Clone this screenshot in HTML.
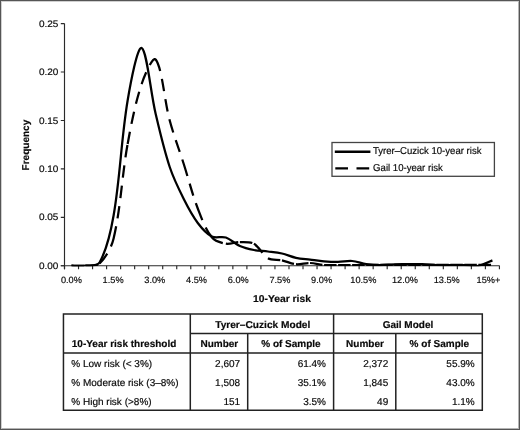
<!DOCTYPE html>
<html><head><meta charset="utf-8"><title>10-Year risk</title>
<style>
html,body{margin:0;padding:0;background:#fff;}
body{width:520px;height:430px;overflow:hidden;position:relative;}
#frame{position:absolute;left:0;top:0;width:520px;height:430px;box-sizing:border-box;border:1px solid #555;}
#frame2{position:absolute;left:1px;top:1px;width:518px;height:428px;box-sizing:border-box;border-top:1px solid #d0d0d0;border-left:1px solid #d0d0d0;border-right:1px solid #b4b4b4;border-bottom:1px solid #b4b4b4;}
svg{position:absolute;left:0;top:0;}
svg text{font-family:"Liberation Sans",Arial,Helvetica,sans-serif;font-size:10px;fill:#0a0a0a;stroke:#0a0a0a;stroke-width:0.18px;text-rendering:geometricPrecision;}
svg text.a{font-size:10px;}
svg text.t{font-size:10px;}
svg text.tb{font-size:10px;font-weight:bold;}
svg text.b{font-weight:bold;font-size:10px;}
</style></head><body>
<div id="frame"></div><div id="frame2"></div>
<svg width="520" height="430" viewBox="0 0 520 430">
<defs><clipPath id="cp"><rect x="60" y="0" width="450" height="266.3"/></clipPath></defs>
<g fill="none" stroke="#2a2a2a" stroke-width="1.15">
<path d="M64.5 23.5V269.15M60.8 265.75H499.6"/>
<path d="M64.50 265.75v3.4M78.53 265.75v3.4M92.56 265.75v3.4M106.59 265.75v3.4M120.62 265.75v3.4M134.65 265.75v3.4M148.68 265.75v3.4M162.71 265.75v3.4M176.74 265.75v3.4M190.77 265.75v3.4M204.80 265.75v3.4M218.83 265.75v3.4M232.86 265.75v3.4M246.89 265.75v3.4M260.92 265.75v3.4M274.95 265.75v3.4M288.98 265.75v3.4M303.01 265.75v3.4M317.04 265.75v3.4M331.07 265.75v3.4M345.10 265.75v3.4M359.13 265.75v3.4M373.16 265.75v3.4M387.19 265.75v3.4M401.22 265.75v3.4M415.25 265.75v3.4M429.28 265.75v3.4M443.31 265.75v3.4M457.34 265.75v3.4M471.37 265.75v3.4M485.40 265.75v3.4M499.43 265.75v3.4"/>
<path d="M64.50 265.75h-3.7M64.50 217.32h-3.7M64.50 168.89h-3.7M64.50 120.46h-3.7M64.50 72.03h-3.7M64.50 23.60h-3.7"/>
</g>
<g fill="none" stroke="#000" stroke-width="2.25" stroke-linejoin="round" clip-path="url(#cp)">
<path d="M71.52 265.70 C73.85 265.70 80.90 266.06 85.55 265.70 M85.55 265.70 C90.25 265.33 96.48 266.50 99.57 263.50 M99.57 263.50 C105.83 257.44 111.45 247.69 113.60 238.50 M113.60 238.50 C120.80 207.86 121.95 175.31 127.63 144.00 M127.63 144.00 C131.30 123.81 135.25 103.32 141.66 84.00 M141.66 84.00 C144.60 75.15 152.79 55.72 155.69 59.50 M155.69 59.50 C162.14 67.88 164.32 100.37 169.72 120.50 M169.72 120.50 C173.67 135.20 179.13 149.48 183.75 164.00 M183.75 164.00 C188.48 178.82 192.24 194.01 197.78 208.50 M197.78 208.50 C201.59 218.45 205.50 229.38 211.81 237.30 M211.81 237.30 C214.85 241.11 220.96 242.86 225.84 243.70 M225.84 243.70 C230.32 244.46 235.20 242.08 239.88 242.10 M239.88 242.10 C244.55 242.12 250.04 241.58 253.91 243.80 M253.91 243.80 C259.40 246.95 262.45 254.98 267.94 258.20 M267.94 258.20 C271.80 260.48 277.35 259.31 281.97 260.30 M281.97 260.30 C286.70 261.31 291.24 263.74 296.00 264.20 M296.00 264.20 C300.59 264.64 305.36 262.87 310.02 263.00 M310.02 263.00 C314.72 263.13 319.36 264.63 324.06 265.00 M324.06 265.00 C328.71 265.36 333.41 265.17 338.08 265.20 M338.08 265.20 C342.76 265.23 347.44 265.27 352.12 265.20 M352.12 265.20 C356.79 265.13 361.47 264.87 366.14 264.80 M366.14 264.80 C370.82 264.73 375.50 264.80 380.18 264.80 M380.18 264.80 C384.85 264.80 389.53 264.80 394.20 264.80 M394.20 264.80 C398.88 264.80 403.56 264.80 408.23 264.80 M408.23 264.80 C412.91 264.80 417.59 264.80 422.26 264.80 M422.26 264.80 C426.94 264.80 431.62 264.80 436.29 264.80 M436.29 264.80 C440.97 264.80 445.65 264.80 450.32 264.80 M450.32 264.80 C455.00 264.80 459.68 264.80 464.35 264.80 M464.35 264.80 C469.03 264.80 473.71 264.80 478.38 264.80 M478.38 264.80 C483.06 264.80 490.08 264.80 492.41 264.80" stroke-dasharray="12.5 8"/>
<path d="M71.52 265.70 C73.85 265.70 80.93 266.23 85.55 265.70 C90.28 265.16 97.45 266.30 99.57 262.50 C106.81 249.56 110.82 231.56 113.60 215.50 C120.18 177.56 121.27 138.51 127.63 100.50 C130.62 82.67 137.49 45.99 141.66 48.00 C146.85 50.49 150.53 92.12 155.69 114.00 C159.89 131.78 164.01 149.70 169.72 167.00 C173.37 178.03 178.55 188.60 183.75 199.00 C187.90 207.27 192.28 215.65 197.78 223.00 C201.64 228.15 206.38 233.69 211.81 236.50 C215.74 238.53 221.53 236.04 225.84 237.50 C230.88 239.20 234.92 243.79 239.88 246.00 C244.28 247.96 249.15 249.07 253.91 250.00 C258.50 250.90 263.27 250.92 267.94 251.50 C272.62 252.08 277.37 252.47 281.97 253.50 C286.72 254.57 291.23 256.76 296.00 257.80 C300.59 258.80 305.35 259.02 310.02 259.60 C314.70 260.18 319.36 260.92 324.06 261.30 C328.72 261.68 333.41 261.95 338.08 261.90 C342.76 261.85 347.49 260.65 352.12 261.00 C356.84 261.35 361.42 263.29 366.14 264.00 C370.78 264.69 375.49 265.15 380.18 265.20 C384.85 265.25 389.52 264.47 394.20 264.30 C398.88 264.13 403.56 264.22 408.23 264.20 C412.91 264.18 417.59 264.07 422.26 264.20 C426.95 264.33 431.61 264.83 436.29 265.00 C440.97 265.17 445.65 265.17 450.32 265.20 C455.00 265.23 459.68 265.10 464.35 265.20 C469.03 265.30 473.87 266.57 478.38 265.80 C483.22 264.97 490.08 261.30 492.41 260.40"/>
</g>
<g><text transform="translate(71.40 282.60) scale(0.92 0.91)" class="a" text-anchor="middle">0.0%</text><text transform="translate(113.10 282.60) scale(0.92 0.91)" class="a" text-anchor="middle">1.5%</text><text transform="translate(154.80 282.60) scale(0.92 0.91)" class="a" text-anchor="middle">3.0%</text><text transform="translate(196.50 282.60) scale(0.92 0.91)" class="a" text-anchor="middle">4.5%</text><text transform="translate(238.20 282.60) scale(0.92 0.91)" class="a" text-anchor="middle">6.0%</text><text transform="translate(279.90 282.60) scale(0.92 0.91)" class="a" text-anchor="middle">7.5%</text><text transform="translate(321.60 282.60) scale(0.92 0.91)" class="a" text-anchor="middle">9.0%</text><text transform="translate(363.30 282.60) scale(0.92 0.91)" class="a" text-anchor="middle">10.5%</text><text transform="translate(405.00 282.60) scale(0.92 0.91)" class="a" text-anchor="middle">12.0%</text><text transform="translate(446.70 282.60) scale(0.92 0.91)" class="a" text-anchor="middle">13.5%</text><text transform="translate(488.40 282.60) scale(0.92 0.91)" class="a" text-anchor="middle">15%+</text>
<text transform="translate(58.40 268.85) scale(1 0.94)" class="a" text-anchor="end">0.00</text><text transform="translate(58.40 220.42) scale(1 0.94)" class="a" text-anchor="end">0.05</text><text transform="translate(58.40 171.99) scale(1 0.94)" class="a" text-anchor="end">0.10</text><text transform="translate(58.40 123.56) scale(1 0.94)" class="a" text-anchor="end">0.15</text><text transform="translate(58.40 75.13) scale(1 0.94)" class="a" text-anchor="end">0.20</text><text transform="translate(58.40 26.70) scale(1 0.94)" class="a" text-anchor="end">0.25</text></g>
<text transform="translate(282.00 302.00) scale(1.03 1)" class="b" text-anchor="middle">10-Year risk</text>
<text transform="translate(28.50 145.10) rotate(-90)" class="b" text-anchor="middle">Frequency</text>
<rect x="332" y="142.5" width="162.4" height="33.8" fill="#fff" stroke="#444" stroke-width="1.3"/>
<path d="M334.8 151.7H370.4" stroke="#000" stroke-width="2.4"/>
<path d="M335.3 168.4H348M356.5 168.4H369.2" stroke="#000" stroke-width="2.2"/>
<text transform="translate(372.90 154.00) scale(0.958 1)" class="a">Tyrer–Cuzick 10-year risk</text>
<text transform="translate(373.10 171.00) scale(0.958 1)" class="a">Gail 10-year risk</text>
<path d="M63.45 313.9H482.3V410.3H63.45Z M190.3 313.9V410.3 M333.6 313.9V410.3 M247.7 333.5V410.3 M395.8 333.5V410.3 M190.3 333.5H482.3 M63.45 352.9H482.3" fill="none" stroke="#222" stroke-width="1.5"/>
<text transform="translate(262.75 328.00) scale(1.015 1)" class="tb" text-anchor="middle">Tyrer–Cuzick Model</text><text transform="translate(407.95 328.00)" class="tb" text-anchor="middle">Gail Model</text><text transform="translate(71.80 347.00)" class="tb">10-Year risk threshold</text><text transform="translate(219.30 347.00)" class="tb" text-anchor="middle">Number</text><text transform="translate(290.95 347.00)" class="tb" text-anchor="middle">% of Sample</text><text transform="translate(365.00 347.00)" class="tb" text-anchor="middle">Number</text><text transform="translate(439.35 347.00)" class="tb" text-anchor="middle">% of Sample</text><text transform="translate(71.30 367.00)" class="t">% Low risk (&lt; 3%)</text><text transform="translate(240.10 367.00)" class="t" text-anchor="end">2,607</text><text transform="translate(326.00 367.00)" class="t" text-anchor="end">61.4%</text><text transform="translate(388.20 367.00)" class="t" text-anchor="end">2,372</text><text transform="translate(474.70 367.00)" class="t" text-anchor="end">55.9%</text><text transform="translate(71.30 386.00)" class="t">% Moderate risk (3–8%)</text><text transform="translate(240.10 386.00)" class="t" text-anchor="end">1,508</text><text transform="translate(326.00 386.00)" class="t" text-anchor="end">35.1%</text><text transform="translate(388.20 386.00)" class="t" text-anchor="end">1,845</text><text transform="translate(474.70 386.00)" class="t" text-anchor="end">43.0%</text><text transform="translate(71.30 405.00)" class="t">% High risk (&gt;8%)</text><text transform="translate(240.10 405.00)" class="t" text-anchor="end">151</text><text transform="translate(326.00 405.00)" class="t" text-anchor="end">3.5%</text><text transform="translate(388.20 405.00)" class="t" text-anchor="end">49</text><text transform="translate(474.70 405.00)" class="t" text-anchor="end">1.1%</text>
</svg>
</body></html>
